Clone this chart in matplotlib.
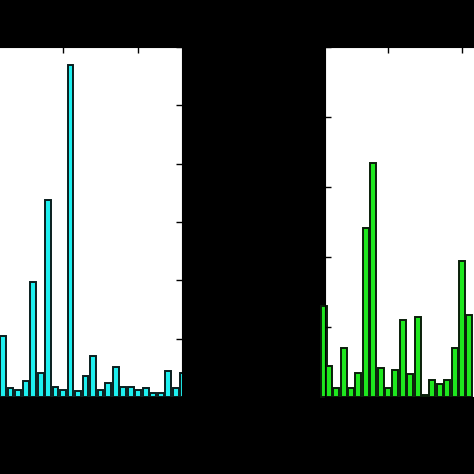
import numpy as np
import matplotlib
matplotlib.use("Agg")
import matplotlib.pyplot as plt
from matplotlib.ticker import MultipleLocator

# bar heights (left: cyan, right: green)
left_pos = list(range(2, 27))
left_vals = [10.4, 1.5, 1.25, 2.7, 19.7, 4.2, 33.8, 1.8, 1.25, 56.9,
             1.0, 3.6, 7.1, 1.25, 2.4, 5.2, 1.8, 1.8, 1.25, 1.5,
             0.7, 0.7, 4.5, 1.5, 4.2]

right_pos = [1.35] + list(range(2, 22))
right_vals = [13.0, 4.36, 1.23, 7.06, 1.23, 3.5, 24.2, 33.5, 4.1, 1.23,
              3.9, 11.0, 3.3, 11.5, 0.33, 2.4, 1.9, 2.4, 7.06, 19.5, 11.7]

W = H = 474.0
fig = plt.figure(figsize=(4.74, 4.74), dpi=100, facecolor="black")

# left panel: its left part is outside the picture
axl = fig.add_axes([-8.25 / W, 77 / H, 190.5 / W, 350 / H])
axl.bar(left_pos, left_vals, width=0.8, color="#1ef0f0",
        edgecolor="#0a1e1e", linewidth=1.4)
axl.set_xlim(0.5, 25.9)
axl.set_ylim(0, 60)
axl.xaxis.tick_top()
axl.yaxis.tick_right()

# right panel: its right part is outside the picture
axr = fig.add_axes([325.1 / W, 77 / H, 210.9 / W, 350 / H])
bars = axr.bar(right_pos, right_vals, width=0.8, color="#1ee81e",
               edgecolor="#0a1e0a", linewidth=1.4)
for b in bars:
    b.set_clip_on(False)
axr.set_xlim(1.5, 30)
axr.set_ylim(0, 50)
axr.xaxis.tick_top()
axr.yaxis.tick_left()

for ax in (axl, axr):
    ax.set_facecolor("white")
    ax.xaxis.set_major_locator(MultipleLocator(10))
    ax.yaxis.set_major_locator(MultipleLocator(10))
    ax.tick_params(direction="in", length=4, width=1, color="black",
                   labeltop=False, labelbottom=False,
                   labelleft=False, labelright=False)
    for s in ax.spines.values():
        s.set_color("black")

fig.savefig("out.png", dpi=100, facecolor="black")
